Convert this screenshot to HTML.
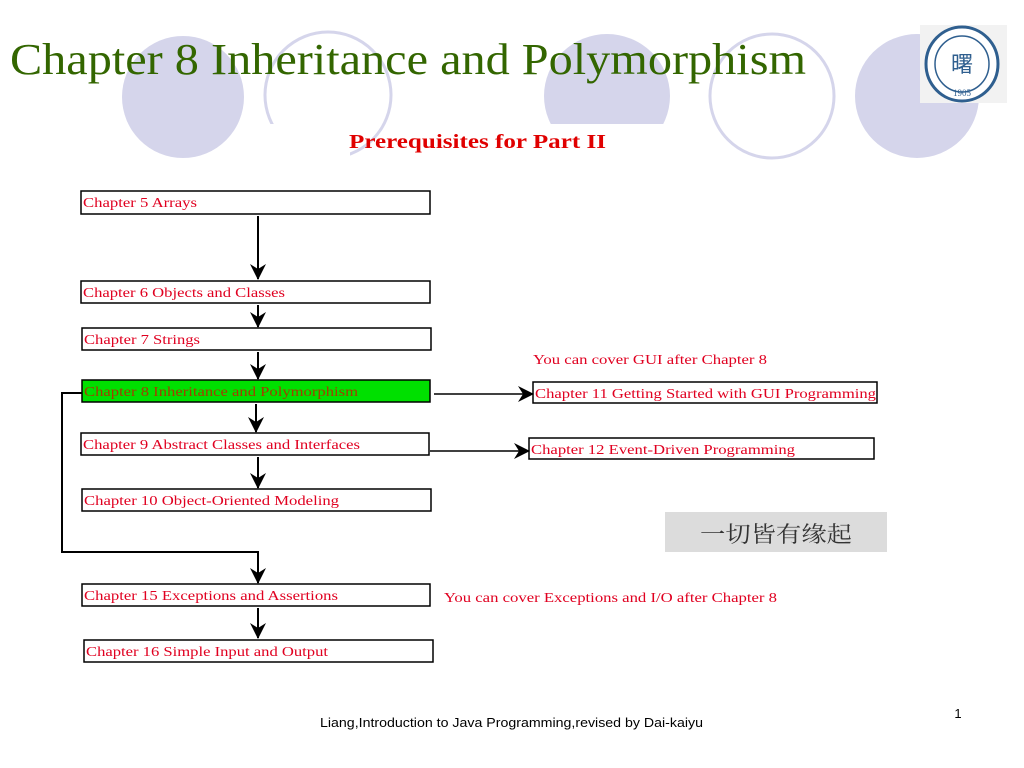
<!DOCTYPE html>
<html><head><meta charset="utf-8"><style>
html,body{margin:0;padding:0;background:#fff;width:1024px;height:768px;overflow:hidden}
svg{display:block}
.s{font-family:"Liberation Serif","Times New Roman",serif}
</style></head><body>
<svg width="1024" height="768" xmlns="http://www.w3.org/2000/svg" class="s" style="font-family:'Liberation Serif',serif">
<defs>
<marker id="b" markerWidth="16" markerHeight="16" refX="15" refY="8" orient="auto" markerUnits="userSpaceOnUse"><path d="M0,0 L16,8 L0,16 L5,8 Z" fill="#000"/></marker></defs>
<ellipse cx="183" cy="97" rx="61" ry="61" fill="#d5d5eb"/>
<ellipse cx="328" cy="95" rx="63" ry="63" fill="none" stroke="#d5d5eb" stroke-width="3"/>
<ellipse cx="607" cy="96" rx="63" ry="62" fill="#d5d5eb"/>
<ellipse cx="772" cy="96" rx="62" ry="62" fill="none" stroke="#d5d5eb" stroke-width="3"/>
<ellipse cx="917" cy="96" rx="62" ry="62" fill="#d5d5eb"/>
<rect x="520" y="124" width="180" height="40" fill="#fff"/>
<rect x="250" y="124" width="100" height="40" fill="#fff"/>
<text x="10" y="74" font-size="44" fill="#336600" textLength="796" lengthAdjust="spacingAndGlyphs">Chapter 8 Inheritance and Polymorphism</text>
<rect x="920" y="25" width="87" height="78" fill="#f2f2f2"/>
<ellipse cx="962" cy="64" rx="36" ry="37" fill="#fff" stroke="#2f5f8f" stroke-width="3"/>
<ellipse cx="962" cy="64" rx="27" ry="28" fill="none" stroke="#2f5f8f" stroke-width="1.5"/>
<text x="962" y="72" font-size="22" fill="#2f5f8f" text-anchor="middle" style="font-family:'Noto Sans CJK SC',sans-serif">曙</text>
<text x="962" y="96" font-size="9" fill="#2f5f8f" text-anchor="middle">1905</text>
<text x="349" y="148" font-size="20" font-weight="bold" fill="#e00000" textLength="257" lengthAdjust="spacingAndGlyphs">Prerequisites for Part II</text>
<g stroke="#000" stroke-width="1.5" fill="#fff">
<rect x="81" y="191" width="349" height="23"/>
<rect x="81" y="281" width="349" height="22"/>
<rect x="82" y="328" width="349" height="22"/>
<rect x="82" y="380" width="348" height="22" fill="#00e000"/>
<rect x="81" y="433" width="348" height="22"/>
<rect x="82" y="489" width="349" height="22"/>
<rect x="82" y="584" width="348" height="22"/>
<rect x="84" y="640" width="349" height="22"/>
<rect x="533" y="382" width="344" height="21"/>
<rect x="529" y="438" width="345" height="21"/>
</g>
<rect x="665" y="512" width="222" height="40" fill="#dcdcdc"/>
<text x="700" y="542" font-size="22" fill="#333" textLength="152" lengthAdjust="spacingAndGlyphs" style="font-family:'Noto Serif CJK SC','Noto Sans CJK SC',serif">一切皆有缘起</text>
<g stroke="#000" stroke-width="2" fill="none">
<line x1="258" y1="216" x2="258" y2="279" marker-end="url(#b)"/>
<line x1="258" y1="305" x2="258" y2="327" marker-end="url(#b)"/>
<line x1="258" y1="352" x2="258" y2="379" marker-end="url(#b)"/>
<line x1="256" y1="404" x2="256" y2="432" marker-end="url(#b)"/>
<line x1="258" y1="457" x2="258" y2="488" marker-end="url(#b)"/>
<line x1="258" y1="608" x2="258" y2="638" marker-end="url(#b)"/>
<polyline points="82,393 62,393 62,552 258,552 258,583" marker-end="url(#b)"/>
<line x1="434" y1="394" x2="533" y2="394" stroke-width="1.5" marker-end="url(#b)"/>
<line x1="430" y1="451" x2="529" y2="451" stroke-width="1.5" marker-end="url(#b)"/>
</g>
<g font-size="14" fill="#e00020" lengthAdjust="spacingAndGlyphs">
<text x="83" y="207" textLength="114" lengthAdjust="spacingAndGlyphs">Chapter 5 Arrays</text>
<text x="83" y="297" textLength="202" lengthAdjust="spacingAndGlyphs">Chapter 6 Objects and Classes</text>
<text x="84" y="344" textLength="116" lengthAdjust="spacingAndGlyphs">Chapter 7 Strings</text>
<text x="84" y="396" fill="#a04000" textLength="274" lengthAdjust="spacingAndGlyphs">Chapter 8 Inheritance and Polymorphism</text>
<text x="83" y="449" textLength="277" lengthAdjust="spacingAndGlyphs">Chapter 9 Abstract Classes and Interfaces</text>
<text x="84" y="505" textLength="255" lengthAdjust="spacingAndGlyphs">Chapter 10 Object-Oriented Modeling</text>
<text x="84" y="600" textLength="254" lengthAdjust="spacingAndGlyphs">Chapter 15 Exceptions and Assertions</text>
<text x="86" y="656" textLength="242" lengthAdjust="spacingAndGlyphs">Chapter 16 Simple Input and Output</text>
<text x="535" y="398" textLength="341" lengthAdjust="spacingAndGlyphs">Chapter 11 Getting Started with GUI Programming</text>
<text x="531" y="454" textLength="264" lengthAdjust="spacingAndGlyphs">Chapter 12 Event-Driven Programming</text>
<text x="533" y="364" textLength="234" lengthAdjust="spacingAndGlyphs">You can cover GUI after Chapter 8</text>
<text x="444" y="602" textLength="333" lengthAdjust="spacingAndGlyphs">You can cover Exceptions and I/O after Chapter 8</text>
</g>
<text x="320" y="727" font-size="13" fill="#000" textLength="383" lengthAdjust="spacingAndGlyphs" style="font-family:'Liberation Sans',sans-serif">Liang,Introduction to Java Programming,revised by Dai-kaiyu</text>
<text x="958" y="718" font-size="13" fill="#000" text-anchor="middle" style="font-family:'Liberation Sans',sans-serif">1</text>
</svg>
</body></html>
